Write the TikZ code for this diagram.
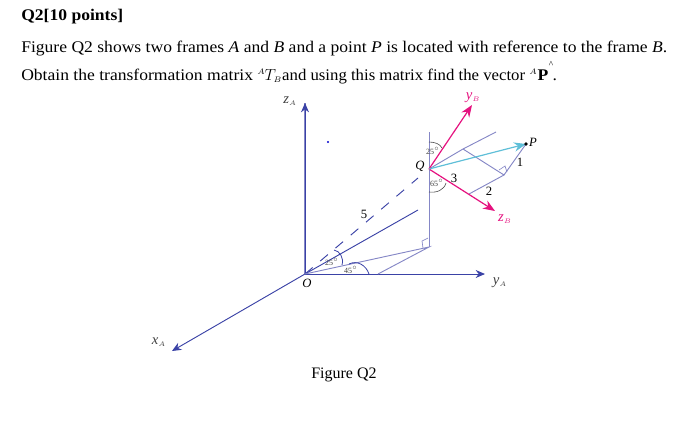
\documentclass[tikz,border=0pt]{standalone}
\usepackage{fontspec}
\setmainfont{Liberation Serif}
\newfontfamily\paratext[FakeStretch=1.08]{Liberation Serif}
\newfontfamily\paratight[FakeStretch=1.03]{Liberation Serif}
\definecolor{axisblue}{HTML}{3A42A6}
\definecolor{lineblue}{HTML}{8587C6}
\definecolor{framepink}{HTML}{E5127F}
\definecolor{vecblue}{HTML}{5FBFD8}
\tikzset{
  axis/.style={draw=axisblue, line width=.7pt, -{Stealth[length=7pt,width=6pt]}},
  guide/.style={draw=lineblue, line width=.7pt},
  pinkvec/.style={draw=framepink, line width=.9pt, -{Stealth[length=9pt,width=7pt]}},
  lab/.style={inner sep=0pt, font=\fontsize{9.5}{11}\selectfont},
  deg/.style={inner sep=0pt, text=black!75, font=\fontsize{6}{7}\selectfont},
  para/.style={inner sep=0pt, anchor=base west, font=\paratext\fontsize{12.2}{14}\selectfont},
}
\usetikzlibrary{arrows.meta}
\begin{document}
\begin{tikzpicture}[x=.75pt, y=-.75pt]
\useasboundingbox (0,0) rectangle (686,425);

\coordinate (O) at (305,274);
\coordinate (zAtip) at (305,103);
\coordinate (yAtip) at (485,274);
\coordinate (xAtip) at (172,351);
\coordinate (Q) at (429,169);
\coordinate (Qtop) at (429,132);
\coordinate (Qfoot) at (429,247);
\coordinate (Qdash) at (418,178);
\coordinate (yBtip) at (472,105);
\coordinate (zBtip) at (495,211);
\coordinate (P) at (526,144);
\coordinate (Qshadow) at (418,210);
\coordinate (yAfoot) at (378,274);
\coordinate (yBfoot) at (463,149);
\coordinate (yBend) at (496,132);
\coordinate (zBfoot) at (469,194);
\coordinate (corner) at (504,175);

% frame A
\draw[guide, line width=1.3pt] (O)--(zAtip);
\draw[axis] (O)--(zAtip);
\draw[axis] (O)--(yAtip);
\draw[axis] (O)--(xAtip);
\draw[draw=axisblue, line width=.7pt, dash pattern=on 7.5pt off 7.5pt] (O)--(Qdash);
\draw[draw=axisblue, line width=.7pt] (O)--(Qshadow);

% construction lines
\draw[guide] (Qtop)--(Qfoot);
\draw[guide] (O)--(Qfoot)--(yAfoot);
\draw[guide] (Q)--(yBfoot)--(yBend);
\draw[guide] (yBfoot)--(corner)--(P);
\draw[guide] (corner)--(zBfoot);
\draw[guide, line width=.5pt] (423,248)--(422,241)--(428,238);
\draw[guide, line width=.5pt] (499,170)--(505,166)--(507,172);

% angle marks
\draw[draw=axisblue, line width=.6pt] (369,274) .. controls (366,265) and (357,260) .. (349,264);
\draw[draw=axisblue, line width=.6pt] (334,250) .. controls (340,251) and (344,258) .. (342,265);
\draw[draw=black!70, line width=.45pt] (429,142) .. controls (435,142) and (440,144) .. (442,148);
\draw[draw=black!70, line width=.45pt] (429,192) .. controls (437,193) and (444,190) .. (446,183);

% frame B
\draw[pinkvec] (Q)--(yBtip);
\draw[pinkvec] (Q)--(zBtip);
\draw[draw=vecblue, line width=.9pt, -{Stealth[length=9pt,width=7pt]}] (Q)--(P);
\fill[black] (P) circle (1.4pt);
\fill[blue!80!black] (328,142) circle (.9pt);

% labels
\node[lab] (labQ) at (420,166) {\textit{Q}};
\node[lab] (labP) at (533,142) {\textit{P}};
\node[lab] (labO) at (307,283) {\textit{O}};
\node[lab] (labfive) at (364,214) {5};
\node[lab] (labthree) at (454,178) {3};
\node[lab] (labtwo) at (489,191) {2};
\node[lab] (labone) at (520,162) {1};
\node[lab, text=black!75, font=\fontsize{11}{12}\selectfont] (labzA) at (290,101) {\textit{z}$_{\scriptscriptstyle A}$};
\node[lab, text=black!75, font=\fontsize{11}{12}\selectfont] (labyA) at (500,283) {\textit{y}$_{\scriptscriptstyle A}$};
\node[lab, text=black!75, font=\fontsize{11}{12}\selectfont] (labxA) at (159,342) {\textit{x}$_{\scriptscriptstyle A}$};
\node[lab, text=framepink, font=\fontsize{11}{12}\selectfont] (labyB) at (473,98) {\textit{y}$_{\scriptscriptstyle B}$};
\node[lab, text=framepink, font=\fontsize{11}{12}\selectfont] (labzB) at (505,219) {\textit{z}$_{\scriptscriptstyle B}$};
\node[deg] (degQup) at (433,151) {25$^\circ$};
\node[deg] (degQdown) at (437,183) {65$^\circ$};
\node[deg] (degOup) at (332,262) {25$^\circ$};
\node[deg] (degOdown) at (351,270) {45$^\circ$};

% text
\node[para] (title) at (21,20) {\textbf{Q2[10 points]}};
\node[para] (lineone) at (21,52) {Figure Q2 shows two frames \textit{A} and \textit{B} and a point \textit{P} is located with reference to the frame \textit{B}.};
\node[para] (linetwo) at (21,80) {Obtain the transformation matrix $^{\scriptscriptstyle A}\mkern-1mu T_{\scriptscriptstyle B}${\paratight and using this matrix find the vector} $^{\scriptscriptstyle A}$\textbf{P} .};
\node[inner sep=0pt, font=\fontsize{7}{8}\selectfont] (hat) at (551,64) {\^{}};
\node[inner sep=0pt, anchor=base west, font=\fontsize{12}{14}\selectfont] (caption) at (311,378) {Figure Q2};
\end{tikzpicture}
\end{document}
